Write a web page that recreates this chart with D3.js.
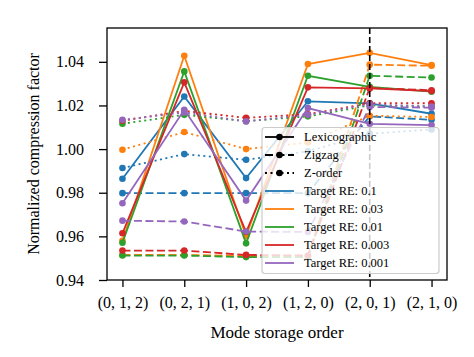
<!DOCTYPE html>
<html>
<head>
<meta charset="utf-8">
<script src="https://cdn.jsdelivr.net/npm/d3@7"></script>
<style>
  html, body { margin: 0; padding: 0; background: #ffffff; }
  svg { display: block; }
  svg text { font-family: "Liberation Serif", "DejaVu Serif", serif; }
</style>
</head>
<body>
<svg id="chart" width="474" height="357"></svg>
<script>
// ---------- data ----------
const categories = ["(0, 1, 2)", "(0, 2, 1)", "(1, 0, 2)", "(1, 2, 0)", "(2, 0, 1)", "(2, 1, 0)"];
const targetRE = ["0.1", "0.03", "0.01", "0.003", "0.001"];
const orderings = ["Lexicographic", "Zigzag", "Z-order"];
const yTicks = [0.94, 0.96, 0.98, 1.00, 1.02, 1.04];
const highlightCategory = "(2, 0, 1)";

// rows follow targetRE order
const lexicographic = [
  [0.9864, 1.0241, 0.9867, 1.0219, 1.0210, 1.0162],
  [0.9580, 1.0428, 0.9600, 1.0390, 1.0441, 1.0385],
  [0.9571, 1.0356, 0.9568, 1.0336, 1.0285, 1.0263],
  [0.9614, 1.0306, 0.9620, 1.0283, 1.0278, 1.0266],
  [0.9752, 1.0180, 0.9764, 1.0188, 1.0116, 1.0110]
];
const zigzag = [
  [0.9798, 0.9798, 0.9798, 0.9798, 1.0150, 1.0134],
  [0.9515, 0.9515, 0.9510, 0.9510, 1.0387, 1.0382],
  [0.9512, 0.9512, 0.9505, 0.9505, 1.0336, 1.0328],
  [0.9535, 0.9535, 0.9515, 0.9512, 1.0280, 1.0270],
  [0.9672, 0.9668, 0.9622, 0.9620, 1.0193, 1.0190]
];
const zorder = [
  [0.9913, 0.9977, 0.9951, 0.9990, 1.0070, 1.0090],
  [0.9997, 1.0078, 1.0000, 1.0030, 1.0153, 1.0147],
  [1.0116, 1.0157, 1.0128, 1.0150, 1.0200, 1.0195],
  [1.0130, 1.0175, 1.0143, 1.0160, 1.0210, 1.0210],
  [1.0134, 1.0168, 1.0127, 1.0157, 1.0205, 1.0195]
];

const colors = ["#1f77b4", "#ff7f0e", "#2ca02c", "#d62728", "#9467bd"];
const dashes = [null, "8,3.5", "2,3.5"];
const seriesByOrdering = [lexicographic, zigzag, zorder];
const FONT = "Liberation Serif, DejaVu Serif, serif";

// ---------- layout ----------
const svg = d3.select("#chart");
const plot = { left: 107, right: 447, top: 28, bottom: 280 };

const x = d3.scalePoint().domain(categories).range([plot.left, plot.right]).padding(0.25);
const y = d3.scaleLinear().domain([0.94, 1.0555]).range([plot.bottom, plot.top]);

// ---------- series ----------
const line = d3.line().x((d, i) => x(categories[i])).y(d => y(d));
const gSeries = svg.append("g");
targetRE.forEach((re, c) => {
  seriesByOrdering.forEach((arr, o) => {
    const vals = arr[c];
    const g = gSeries.append("g");
    g.append("path")
      .attr("d", line(vals))
      .attr("fill", "none")
      .attr("stroke", colors[c])
      .attr("stroke-width", 1.8)
      .attr("stroke-dasharray", dashes[o]);
    g.selectAll("circle").data(vals).join("circle")
      .attr("cx", (d, i) => x(categories[i]))
      .attr("cy", d => y(d))
      .attr("r", 3.3)
      .attr("fill", colors[c]);
  });
});

// vertical highlight line
svg.append("line")
  .attr("x1", x(highlightCategory)).attr("x2", x(highlightCategory))
  .attr("y1", plot.top).attr("y2", plot.bottom)
  .attr("stroke", "#000").attr("stroke-width", 1.6)
  .attr("stroke-dasharray", "6,3");

// ---------- axes ----------
const xAxis = d3.axisBottom(x).tickSize(7).tickPadding(10);
const gx = svg.append("g").attr("transform", `translate(0,${plot.bottom})`).call(xAxis);
gx.select(".domain").remove();
gx.selectAll("line").attr("stroke", "#000").attr("stroke-width", 1.3);
gx.selectAll("text").attr("font-size", 16).attr("font-family", FONT).attr("fill", "#000");

const yAxis = d3.axisLeft(y).tickValues(yTicks).tickFormat(d3.format(".2f")).tickSize(8).tickPadding(15);
const gy = svg.append("g").attr("transform", `translate(${plot.left},0)`).call(yAxis);
gy.select(".domain").remove();
gy.selectAll("line").attr("stroke", "#000").attr("stroke-width", 1.3);
gy.selectAll("text").attr("font-size", 16).attr("font-family", FONT).attr("fill", "#000");

// frame
svg.append("rect")
  .attr("x", plot.left).attr("y", plot.top)
  .attr("width", plot.right - plot.left).attr("height", plot.bottom - plot.top)
  .attr("fill", "none").attr("stroke", "#000").attr("stroke-width", 1.3);

// axis titles
svg.append("text")
  .attr("x", (plot.left + plot.right) / 2).attr("y", 338)
  .attr("text-anchor", "middle").attr("font-size", 17).attr("font-family", FONT)
  .text("Mode storage order");
svg.append("text")
  .attr("transform", `translate(39,${(plot.top + plot.bottom) / 2}) rotate(-90)`)
  .attr("text-anchor", "middle").attr("font-size", 16).attr("font-family", FONT)
  .text("Normalized compression factor");

// ---------- legend ----------
const lg = svg.append("g");
lg.append("rect")
  .attr("x", 262).attr("y", 127.5).attr("width", 177).attr("height", 146)
  .attr("rx", 3).attr("fill", "#fff").attr("fill-opacity", 0.8)
  .attr("stroke", "#cccccc").attr("stroke-width", 1.2);

const legendItems = orderings.map((o, i) => ({ label: o, color: "#000", dash: dashes[i], marker: true }))
  .concat(targetRE.map((r, i) => ({ label: "Target RE: " + r, color: colors[i], dash: null, marker: false })));
const rowY0 = 137, rowStep = 18;
legendItems.forEach((it, i) => {
  const yy = rowY0 + i * rowStep;
  lg.append("line")
    .attr("x1", 265).attr("x2", 294).attr("y1", yy).attr("y2", yy)
    .attr("stroke", it.color).attr("stroke-width", 1.8)
    .attr("stroke-dasharray", it.dash);
  if (it.marker) {
    lg.append("circle").attr("cx", 279.5).attr("cy", yy).attr("r", 3.3).attr("fill", it.color);
  }
  lg.append("text")
    .attr("x", 304).attr("y", yy).attr("dy", "0.35em")
    .attr("font-size", 12.5).attr("font-family", FONT).attr("fill", "#000")
    .text(it.label);
});
</script>
</body>
</html>
